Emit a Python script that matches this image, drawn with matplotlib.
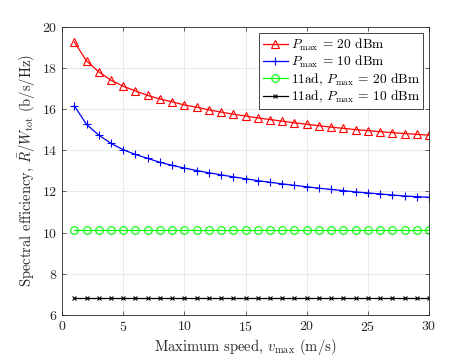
import matplotlib
matplotlib.use("Agg")
import matplotlib.pyplot as plt
import numpy as np

plt.rcParams['font.family'] = 'serif'
plt.rcParams['font.serif'] = ['cmr10']
plt.rcParams['mathtext.fontset'] = 'cm'
plt.rcParams['axes.formatter.use_mathtext'] = True

speed = list(range(1, 31))
p20 = [19.27, 18.35, 17.82, 17.41, 17.12, 16.89, 16.67, 16.50, 16.36, 16.21,
       16.10, 15.97, 15.86, 15.76, 15.67, 15.58, 15.50, 15.42, 15.34, 15.27,
       15.20, 15.13, 15.07, 15.01, 14.96, 14.91, 14.86, 14.82, 14.78, 14.74]
p10 = [16.17, 15.26, 14.74, 14.34, 14.03, 13.80, 13.61, 13.42, 13.27, 13.14,
       13.02, 12.91, 12.81, 12.71, 12.62, 12.53, 12.45, 12.37, 12.30, 12.23,
       12.16, 12.10, 12.04, 11.98, 11.93, 11.88, 11.83, 11.78, 11.75, 11.72]
ad20 = [10.12] * 30
ad10 = [6.80] * 30

labels = [r'$P_{\max}$ = 20 dBm',
          r'$P_{\max}$ = 10 dBm',
          r'11ad, $P_{\max}$ = 20 dBm',
          r'11ad, $P_{\max}$ = 10 dBm']

fig = plt.figure(figsize=(4.74, 3.55), dpi=100)
ax = fig.add_axes([0.131, 0.113, 0.774, 0.811])

ax.plot(speed, p20, color='#ff0000', marker='^', mfc='none', ms=5.5, lw=0.9, mew=0.8, label=labels[0])
ax.plot(speed, p10, color='#0000ff', marker='+', ms=6, lw=0.9, mew=0.8, label=labels[1])
ax.plot(speed, ad20, color='#00ff00', marker='o', mfc='none', ms=5.5, lw=0.9, mew=0.8, label=labels[2])
ax.plot(speed, ad10, color='#000000', marker='x', ms=3.5, lw=0.9, mew=0.8, label=labels[3])

ax.set_xlim(0, 30)
ax.set_ylim(6, 20)
ax.set_xticks([0, 5, 10, 15, 20, 25, 30])
ax.set_yticks([6, 8, 10, 12, 14, 16, 18, 20])
ax.grid(True, color='#e6e6e6', lw=0.6)
ax.set_axisbelow(True)
ax.tick_params(direction='in', top=True, right=True, labelsize=10, colors='#262626', length=3, width=0.5)
for s in ax.spines.values():
    s.set_color('#262626')
    s.set_linewidth(0.6)

ax.set_xlabel(r'Maximum speed, $v_{\max}$ (m/s)', fontsize=10.5, color='#262626', labelpad=2)
ax.set_ylabel(r'Spectral efficiency, $\bar{R}/W_{\mathrm{tot}}$ (b/s/Hz)', fontsize=10.5, color='#262626', labelpad=3)

leg = ax.legend(loc='upper right', fontsize=9.6, frameon=True, fancybox=False,
                borderpad=0.25, labelspacing=0.1, handlelength=1.9, handletextpad=0.2,
                borderaxespad=0.45, framealpha=1)
leg.get_frame().set_edgecolor('#262626')
leg.get_frame().set_linewidth(0.6)

fig.savefig('out.png', dpi=100)
